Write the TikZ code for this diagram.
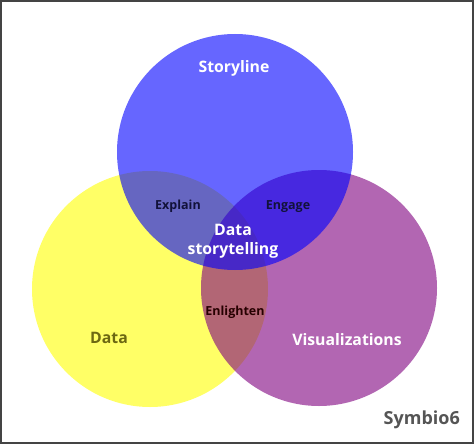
\documentclass[tikz,border=0pt]{standalone}
\usepackage{fontspec}
\setmainfont{Open Sans}
\usepackage{xcolor}
\usepackage{tikz}
\usetikzlibrary{positioning}
\definecolor{frame}{HTML}{444444}
\definecolor{setyel}{HTML}{FFFF00}
\definecolor{setpur}{HTML}{800080}
\definecolor{setblu}{HTML}{0000FF}
\definecolor{inkdark}{HTML}{12123A}
\definecolor{inkdata}{HTML}{6C6812}
\definecolor{inkmark}{HTML}{555555}
\tikzset{
  venn/.style      = {fill opacity=0.6},
  bigwhite/.style  = {font=\fontsize{15.8}{19}\selectfont\bfseries, text=white, inner sep=0pt, align=center},
  smalldark/.style = {font=\fontsize{12.5}{14}\selectfont\bfseries, text=inkdark, inner sep=0pt},
  brand/.style     = {font=\fontsize{18}{20}\selectfont\bfseries, text=inkmark, inner sep=0pt},
}
\begin{document}
\begin{tikzpicture}[x=1pt,y=-1pt]
\path[use as bounding box] (0,0) rectangle (474,444);
\fill[white] (0,0) rectangle (474,444);

% the three sets: yellow, then purple, then blue on top
\fill[setyel, venn] (150,289) circle (118);
\fill[setpur, venn] (319,288) circle (118);
\fill[setblu, venn] (235,152) circle (118);

% set names
\node[bigwhite] (story) at (234,68)  {Storyline};
\node[bigwhite, text=inkdata] (data) at (109,338) {Data};
\node[bigwhite] (vis)   at (347,340) {Visualizations};

% pairwise overlaps
\node[smalldark] (explain)   at (178,206) {Explain};
\node[smalldark] (engage)    at (288,207) {Engage};
\node[smalldark, text=black!85!red] (enlighten) at (235,312) {Enlighten};

% the middle
\node[bigwhite] (ds) at (233,241) {Data\\storytelling};

\node[brand, anchor=east] (symbio) at (460,420) {Symbio6};

% outer frame
\draw[frame, line width=2pt] (1,1) rectangle (473,443);
\end{tikzpicture}
\end{document}
